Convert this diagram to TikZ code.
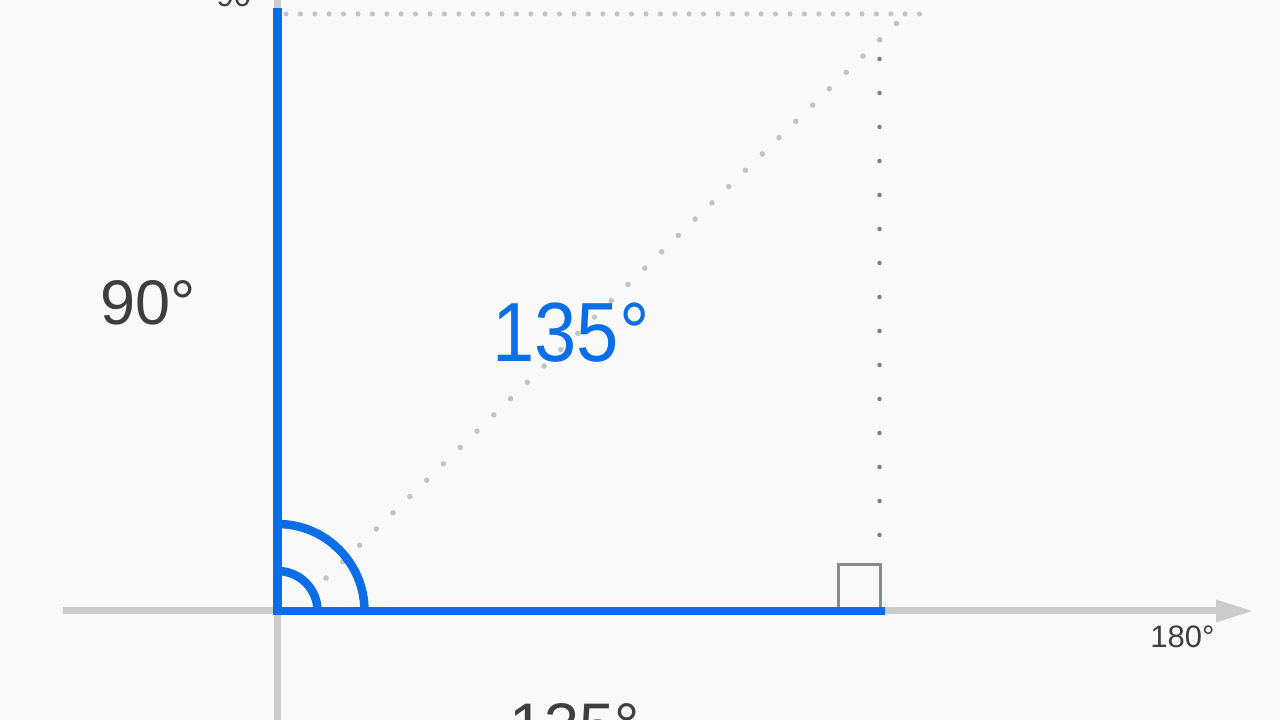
\documentclass[tikz,border=0pt]{standalone}
\usepackage{fontspec}
\setmainfont{Liberation Sans}
\usetikzlibrary{calc}
\definecolor{bg}{HTML}{F9F9F9}
\definecolor{ablue}{HTML}{0A6EE8}
\definecolor{axisgray}{HTML}{CBCBCB}
\definecolor{dotlight}{HTML}{C2C2C2}
\definecolor{dotdark}{HTML}{7E7E7E}
\definecolor{txtgray}{HTML}{3E3E3E}
\definecolor{sqgray}{HTML}{8A8A8A}
\tikzset{
  axisline/.style={draw=axisgray, line width=7pt},
  bluearm/.style={draw=ablue, line width=8.5pt},
  anglearc/.style={draw=ablue, line width=8.5pt},
  lightdots/.style={draw=dotlight, line width=5pt, line cap=round, dash pattern=on 0pt off 14.4pt},
  diagdots/.style={draw=dotlight, line width=5.5pt, line cap=round, dash pattern=on 0pt off 23.4pt},
  darkdots/.style={draw=dotdark, line width=4.5pt, line cap=round, dash pattern=on 0pt off 34pt},
  rightmark/.style={draw=sqgray, line width=3pt},
  biglabel/.style={text=txtgray, inner sep=0pt, anchor=base, font=\fontsize{63}{70}\selectfont},
  bluelabel/.style={text=ablue, inner sep=0pt, anchor=base, xscale=0.905, font=\fontsize{84}{90}\selectfont},
  smalllabel/.style={text=txtgray, inner sep=0pt, anchor=base, font=\fontsize{31}{36}\selectfont}
}
\begin{document}
\begin{tikzpicture}[x=1pt,y=1pt]
\fill[bg] (0,0) rectangle (1280,720);
\useasboundingbox (0,0) rectangle (1280,720);
\clip (0,0) rectangle (1280,720);
% key points
\coordinate (O) at (277.5,109);
\coordinate (Xl) at (63,109);
\coordinate (Xr) at (1222,109);
\coordinate (Tip) at (1252,109);
\coordinate (Yb) at (277.5,-5);
\coordinate (Yt) at (277.5,725);
\coordinate (Vtop) at (277.5,712);
\coordinate (Hend) at (885,109);
\coordinate (TopL) at (286,706);
\coordinate (TopR) at (925,706);
\coordinate (VdT) at (879.5,661);
\coordinate (VdB) at (879.5,180);
\coordinate (DgA) at (326,142);
\coordinate (DgB) at (898,698);
% axes
\draw[axisline] (Xl) -- (Xr);
\fill[axisgray] (1216,120.5) -- (Tip) -- (1216,97.5) -- cycle;
\draw[axisline] (Yb) -- (Yt);
% dotted guides
\draw[lightdots] (TopL) -- (TopR);
\draw[darkdots] (VdT) -- (VdB);
\draw[diagdots] (DgA) -- (DgB);
% right angle mark
\draw[rightmark] (838.5,110) -- (838.5,155) -- (880.5,155) -- (880.5,110);
% blue arms
\draw[bluearm] (Vtop) -- (277.5,104.75);
\draw[bluearm] (273.25,109) -- (Hend);
% angle arcs
\draw[anglearc] ($(O)+(40,0)$) arc[start angle=0, end angle=90, radius=40];
\draw[anglearc] ($(O)+(87,0)$) arc[start angle=0, end angle=90, radius=87];
% labels
\node[biglabel] (l90) at (148.5,395) {90°};
\node[bluelabel] (l135) at (571,358) {135°};
\node[smalllabel] (l180) at (1182.5,72) {180°};
\node[biglabel] (l135b) at (575,-28) {135°};
\node[smalllabel] (l90t) at (240,713) {90°};
\end{tikzpicture}
\end{document}
